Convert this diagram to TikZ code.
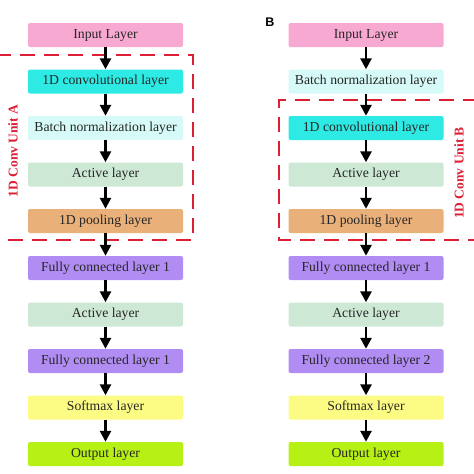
\documentclass[tikz,border=0pt]{standalone}
\usepackage{fontspec}
\setmainfont{Liberation Serif}
\newfontfamily\labelsans{Liberation Sans}
\usetikzlibrary{arrows.meta}
\definecolor{cInput}{HTML}{F8A9D2}
\definecolor{cConv}{HTML}{2DEBE4}
\definecolor{cBN}{HTML}{D6FAF7}
\definecolor{cAct}{HTML}{CDE9D6}
\definecolor{cPool}{HTML}{EAB07A}
\definecolor{cFC}{HTML}{B18CF3}
\definecolor{cSoft}{HTML}{FCFC84}
\definecolor{cOut}{HTML}{B6F014}
\definecolor{cRed}{HTML}{DC1F35}
\tikzset{
  layer/.style={minimum width=155pt, minimum height=24pt, rounded corners=2pt,
    inner sep=0pt, font=\fontsize{13.7}{15}\selectfont, text=black!85},
  flow/.style={line width=2.6pt, -{Triangle[width=11pt,length=11pt]}, black},
  unitframe/.style={draw=cRed, line width=2pt, dash pattern=on 15pt off 9pt},
  unitlabel/.style={rotate=90, text=cRed, font=\bfseries\fontsize{13.5}{15}\selectfont},
}
\begin{document}
\begin{tikzpicture}[x=1pt,y=-1pt]
\useasboundingbox (0,0) rectangle (474,474);
% left column
\node[layer, fill=cInput] (a1) at (105.5,35) {Input Layer};
\node[layer, fill=cConv] (a2) at (105.5,81.5) {1D convolutional layer};
\node[layer, fill=cBN] (a3) at (105.5,128) {Batch normalization layer};
\node[layer, fill=cAct] (a4) at (105.5,174.5) {Active layer};
\node[layer, fill=cPool] (a5) at (105.5,221) {1D pooling layer};
\node[layer, fill=cFC] (a6) at (105.5,268) {Fully connected layer 1};
\node[layer, fill=cAct] (a7) at (105.5,314.5) {Active layer};
\node[layer, fill=cFC] (a8) at (105.5,361) {Fully connected layer 1};
\node[layer, fill=cSoft] (a9) at (105.5,407.5) {Softmax layer};
\node[layer, fill=cOut] (a10) at (105.5,454) {Output layer};
% right column
\node[layer, fill=cInput] (b1) at (366,35) {Input Layer};
\node[layer, fill=cBN] (b2) at (366,81.5) {Batch normalization layer};
\node[layer, fill=cConv] (b3) at (366,128) {1D convolutional layer};
\node[layer, fill=cAct] (b4) at (366,174.5) {Active layer};
\node[layer, fill=cPool] (b5) at (366,221) {1D pooling layer};
\node[layer, fill=cFC] (b6) at (366,268) {Fully connected layer 1};
\node[layer, fill=cAct] (b7) at (366,314.5) {Active layer};
\node[layer, fill=cFC] (b8) at (366,361) {Fully connected layer 2};
\node[layer, fill=cSoft] (b9) at (366,407.5) {Softmax layer};
\node[layer, fill=cOut] (b10) at (366,454) {Output layer};
% panel label
\node[font=\labelsans\bfseries\fontsize{12.5}{14}\selectfont] (lblB) at (270,22) {B};
% dashed unit frames
\draw[unitframe] (-4,55) -- (193,55) -- (193,240) -- (-4,240);
\draw[unitframe] (478,100) -- (279,100) -- (279,240) -- (478,240);
\node[unitlabel] (ua) at (13,151) {1D Conv Unit A};
\node[unitlabel] (ub) at (459,173) {1D Conv Unit B};
% arrows
\foreach \i/\j in {1/2,2/3,3/4,4/5,5/6,6/7,7/8,8/9,9/10}{
  \draw[flow] (a\i.south) -- (a\j.north);
  \draw[flow] (b\i.south) -- (b\j.north);
}
\end{tikzpicture}
\end{document}
